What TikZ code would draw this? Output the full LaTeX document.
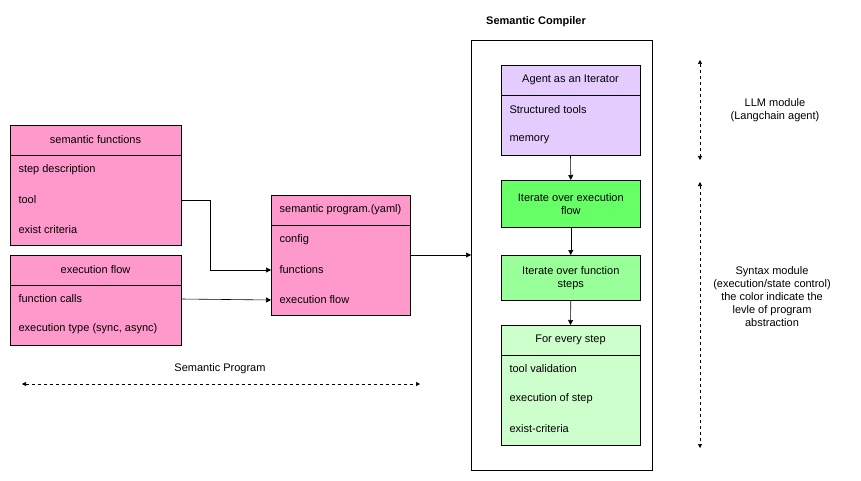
\documentclass[tikz,border=0pt]{standalone}
\usepackage{fontspec}
\setmainfont{Liberation Sans}
\usetikzlibrary{positioning,arrows.meta}
\definecolor{pinkfn}{HTML}{FF99CC}
\definecolor{lavagent}{HTML}{E5CCFF}
\definecolor{greenA}{HTML}{66FF66}
\definecolor{greenB}{HTML}{99FF99}
\definecolor{greenC}{HTML}{CCFFCC}
\tikzset{
  box/.style={draw, line width=0.6pt, minimum width=139pt, anchor=north west},
  head/.style={box, minimum height=30pt, font=\fontsize{11}{13}\selectfont},
  row/.style={anchor=west, font=\fontsize{11}{13}\selectfont},
  conn/.style={-{Triangle[length=5pt,width=5pt]}, line width=0.6pt},
  span/.style={{Triangle[length=4pt,width=4pt]}-{Triangle[length=4pt,width=4pt]}, dashed, line width=0.6pt},
  lbl/.style={align=center, font=\fontsize{11}{13}\selectfont}
}
\begin{document}
\begin{tikzpicture}[x=1pt,y=-1pt]
    \useasboundingbox (0,0) rectangle (861,481);

    % semantic functions
    \draw[fill=pinkfn, line width=0.6pt] (10,125) rectangle (181,245);
    \draw[line width=0.6pt] (10,155) -- (181,155);
    \node[lbl] (sfun) at (95.5,140) {semantic functions};
    \node[row] (sfdesc) at (15,170) {step description};
    \node[row] (sftool) at (15,200) {tool};
    \node[row] (sfexit) at (15,230) {exist criteria};

    % execution flow
    \draw[fill=pinkfn, line width=0.6pt] (10,255) rectangle (181,345);
    \draw[line width=0.6pt] (10,285) -- (181,285);
    \node[lbl] (eflow) at (95.5,270) {execution flow};
    \node[row] (efcalls) at (15,299) {function calls};
    \node[row] (eftype) at (15,329) {execution type (sync, async)};

    % semantic program
    \draw[fill=pinkfn, line width=0.6pt] (271,195) rectangle (410,315);
    \draw[line width=0.6pt] (271,225) -- (410,225);
    \node[lbl] (sprog) at (340.5,210) {semantic program.(yaml)};
    \node[row] (spconf) at (276,240) {config};
    \node[row] (spfun) at (276,270) {functions};
    \node[row] (spflow) at (276,300) {execution flow};
    \coordinate (spin1) at (271,270);
    \coordinate (spin2) at (271,300);
    \coordinate (spout) at (410,255);

    % compiler
    \draw[line width=0.6pt] (471,40) rectangle (652,470);
    \node[lbl, font=\bfseries\fontsize{11}{13}\selectfont] (ctitle) at (536,22) {Semantic Compiler};
    \coordinate (cin) at (471,255);

    \draw[fill=lavagent, line width=0.6pt] (501,65) rectangle (640,155);
    \draw[line width=0.6pt] (501,95) -- (640,95);
    \node[lbl] (agent) at (570.5,80) {Agent as an Iterator};
    \node[row] (agtools) at (506,110) {Structured tools};
    \node[row] (agmem) at (506,140) {memory};
    \coordinate (agbot) at (570.5,155);

    \node[box, fill=greenA, minimum height=47pt, lbl] (itexec) at (501,180) {Iterate over execution\\flow};
    \node[box, fill=greenB, minimum height=45pt, lbl] (itstep) at (501,255) {Iterate over function\\steps};

    \draw[fill=greenC, line width=0.6pt] (501,325) rectangle (640,445);
    \draw[line width=0.6pt] (501,355) -- (640,355);
    \node[lbl] (every) at (570.5,340) {For every step};
    \coordinate (evtop) at (570.5,325);
    \node[row] (evtool) at (506,369) {tool validation};
    \node[row] (evexec) at (506,399) {execution of step};
    \node[row] (evexit) at (506,429) {exist-criteria};

    % connectors
    \coordinate (sftoolend) at (181,200);
    \coordinate (efcallsend) at (181,299);
    \draw[conn] (sftoolend) -| (210,270) -- (spin1);
    \draw[conn] (efcallsend) -- (spin2);
    \draw[conn] (spout) -- (cin);
    \draw[conn] (agbot) -- (itexec.north);
    \draw[conn] (itexec.south) -- (itstep.north);
    \draw[conn] (itstep.south) -- (evtop);

    % spans
    \coordinate (hl) at (22,384);
    \coordinate (hr) at (420,384);
    \draw[span] (hl) -- (hr);
    \node[lbl] (progl) at (220,369) {Semantic Program};
    \coordinate (v1t) at (700,60);
    \coordinate (v1b) at (700,160);
    \coordinate (v2t) at (700,182);
    \coordinate (v2b) at (700,448);
    \draw[span] (v1t) -- (v1b);
    \draw[span] (v2t) -- (v2b);
    \node[lbl] (llml) at (775,110) {LLM module\\(Langchain agent)};
    \node[lbl] (synl) at (772,297) {Syntax module\\(execution/state control)\\the color indicate the\\levle of program\\abstraction};

\end{tikzpicture}
\end{document}
